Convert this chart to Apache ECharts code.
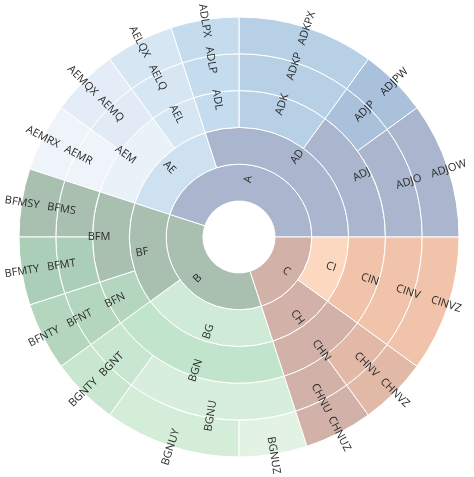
<!DOCTYPE html>
<html>
<head>
<meta charset="utf-8">
<script src="https://cdn.jsdelivr.net/npm/echarts@6/dist/echarts.min.js"></script>
<style>
  html, body { margin: 0; padding: 0; background: #fff; }
  #chart { width: 474px; height: 477px; }
</style>
</head>
<body>
<div id="chart"></div>
<script>
// leaves of the tree; every prefix of a name is its ancestor (A -> AD -> ADJ -> ADJO -> ADJOW)
const leafNames = [
  'ADJOW', 'ADJPW', 'ADKPX', 'ADLPX', 'AELQX', 'AEMQX', 'AEMRX',
  'BFMSY', 'BFMTY', 'BFNTY', 'BGNTY', 'BGNUY', 'BGNUZ',
  'CHNUZ', 'CHNVZ', 'CINVZ'
]
const leafValues = [2, 1, 2, 1, 1, 1, 1, 1, 1, 1, 1, 2, 1, 1, 1, 2]

// fill colour of each node
const nodeColors = {
  A: '#aab6cd', AD: '#aab6cd', ADJ: '#aab6cd', ADJO: '#aab6cd', ADJOW: '#aab6cd',
  ADJP: '#aac1dc', ADJPW: '#aac1dc',
  ADK: '#b7d0e6', ADKP: '#b7d0e6', ADKPX: '#b7d0e6',
  ADL: '#c4dced', ADLP: '#c4dced', ADLPX: '#c4dced',
  AE: '#cde1f0', AEL: '#d6e6f2', AELQ: '#d6e6f2', AELQX: '#d6e6f2',
  AEM: '#e9f1f9', AEMQ: '#e2ebf5', AEMQX: '#e4edf7', AEMR: '#eef4fa', AEMRX: '#eef4fa',
  B: '#a9c0b1', BF: '#a9c0b1', BFM: '#a9c0b1', BFMS: '#a9c0b1', BFMSY: '#a9c0b1',
  BFMT: '#abceb8', BFMTY: '#abceb8',
  BFN: '#b4d6bf', BFNT: '#b4d6bf', BFNTY: '#b4d6bf',
  BG: '#cfead6', BGN: '#c1e4cc', BGNT: '#c8e6d0', BGNTY: '#c8e6d0',
  BGNU: '#d6eedb', BGNUY: '#d4edd9', BGNUZ: '#e2f3e4',
  C: '#d1b1a8', CH: '#d1b1a8', CHN: '#d1b1a8', CHNU: '#d1b1a8', CHNUZ: '#d1b1a8',
  CHNV: '#e2b8a6', CHNVZ: '#e2b8a6',
  CI: '#fdd8c1', CIN: '#f0c3aa', CINV: '#f0c3aa', CINVZ: '#f0c3aa'
}

function buildTree() {
  const root = { children: [] }
  leafNames.forEach((leaf, i) => {
    let parent = root
    for (let d = 1; d <= leaf.length; d++) {
      const name = leaf.slice(0, d)
      let node = parent.children.find((c) => c.name === name)
      if (!node) {
        node = { name, itemStyle: { color: nodeColors[name] }, children: [] }
        parent.children.push(node)
      }
      parent = node
    }
    parent.value = leafValues[i]
    delete parent.children
  })
  return root.children
}

const chart = echarts.init(document.getElementById('chart'))

chart.setOption({
  animation: false,
  series: [
    {
      type: 'sunburst',
      center: [239, 237],
      radius: [36, 220],
      startAngle: 0,
      clockwise: false,
      sort: null,
      data: buildTree(),
      itemStyle: { borderColor: '#ffffff', borderWidth: 1 },
      label: {
        rotate: 'radial',
        align: 'left',
        distance: 19,
        color: '#2a2a2a',
        fontSize: 11,
        fontFamily: 'Open Sans',
      },
    },
  ],
})
</script>
</body>
</html>
